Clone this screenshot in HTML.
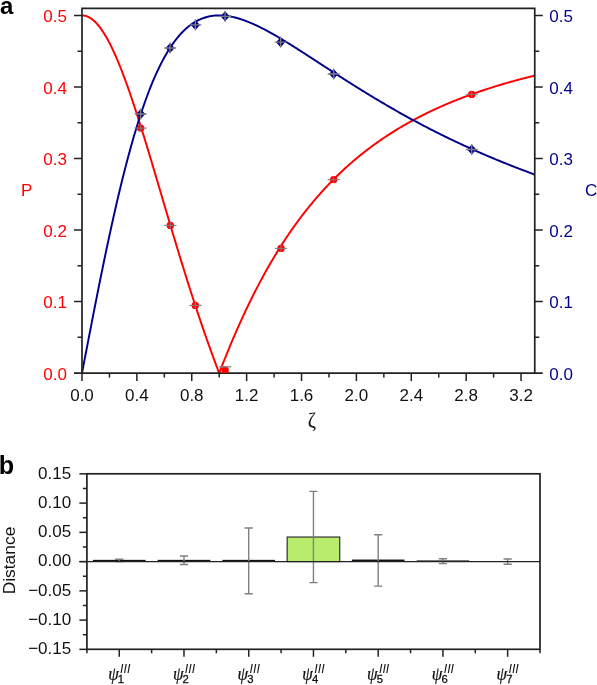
<!DOCTYPE html>
<html><head><meta charset="utf-8"><title>Figure</title>
<style>html,body{margin:0;padding:0;background:#fff}svg{display:block}</style></head>
<body>
<svg width="597" height="685" viewBox="0 0 597 685" font-family="'Liberation Sans', Arial, sans-serif" font-size="17">
<rect width="597" height="685" fill="#fff"/>
<g fill="none" stroke-width="1.95" stroke-linejoin="round">
<path d="M82.00,15.40 L82.69,15.42 L83.37,15.47 L84.06,15.56 L84.74,15.69 L85.43,15.85 L86.12,16.04 L86.80,16.28 L87.49,16.54 L88.17,16.85 L88.86,17.18 L89.55,17.56 L90.23,17.97 L90.92,18.41 L91.60,18.89 L92.29,19.40 L92.98,19.95 L93.66,20.53 L94.35,21.15 L95.03,21.80 L95.72,22.48 L96.41,23.20 L97.09,23.95 L97.78,24.74 L98.46,25.56 L99.15,26.41 L99.84,27.29 L100.52,28.20 L101.21,29.15 L101.89,30.13 L102.58,31.14 L103.27,32.18 L103.95,33.26 L104.64,34.36 L105.32,35.49 L106.01,36.66 L106.70,37.85 L107.38,39.07 L108.07,40.33 L108.75,41.61 L109.44,42.92 L110.13,44.25 L110.81,45.62 L111.50,47.01 L112.18,48.43 L112.87,49.87 L113.56,51.34 L114.24,52.84 L114.93,54.36 L115.61,55.91 L116.30,57.48 L116.99,59.08 L117.67,60.70 L118.36,62.34 L119.04,64.01 L119.73,65.70 L120.42,67.41 L121.10,69.14 L121.79,70.90 L122.47,72.67 L123.16,74.47 L123.85,76.29 L124.53,78.12 L125.22,79.98 L125.90,81.85 L126.59,83.75 L127.28,85.66 L127.96,87.58 L128.65,89.53 L129.33,91.49 L130.02,93.47 L130.71,95.47 L131.39,97.48 L132.08,99.50 L132.76,101.55 L133.45,103.60 L134.14,105.67 L134.82,107.75 L135.51,109.85 L136.19,111.96 L136.88,114.08 L137.57,116.21 L138.25,118.35 L138.94,120.51 L139.62,122.67 L140.31,124.85 L141.00,127.04 L141.68,129.23 L142.37,131.44 L143.05,133.65 L143.74,135.87 L144.43,138.10 L145.11,140.34 L145.80,142.59 L146.48,144.84 L147.17,147.10 L147.86,149.36 L148.54,151.63 L149.23,153.91 L149.91,156.19 L150.60,158.48 L151.29,160.77 L151.97,163.07 L152.66,165.37 L153.34,167.67 L154.03,169.98 L154.72,172.29 L155.40,174.60 L156.09,176.91 L156.77,179.23 L157.46,181.55 L158.15,183.87 L158.83,186.19 L159.52,188.51 L160.20,190.83 L160.89,193.16 L161.58,195.48 L162.26,197.80 L162.95,200.13 L163.63,202.45 L164.32,204.77 L165.01,207.09 L165.69,209.41 L166.38,211.73 L167.06,214.04 L167.75,216.36 L168.44,218.67 L169.12,220.97 L169.81,223.28 L170.49,225.58 L171.18,227.88 L171.87,230.18 L172.55,232.47 L173.24,234.76 L173.92,237.05 L174.61,239.33 L175.30,241.60 L175.98,243.88 L176.67,246.14 L177.35,248.41 L178.04,250.67 L178.73,252.92 L179.41,255.17 L180.10,257.41 L180.78,259.65 L181.47,261.88 L182.16,264.10 L182.84,266.32 L183.53,268.54 L184.21,270.74 L184.90,272.94 L185.59,275.14 L186.27,277.33 L186.96,279.51 L187.64,281.68 L188.33,283.85 L189.02,286.01 L189.70,288.16 L190.39,290.31 L191.07,292.45 L191.76,294.58 L192.45,296.70 L193.13,298.82 L193.82,300.93 L194.50,303.03 L195.19,305.13 L195.88,307.21 L196.56,309.29 L197.25,311.36 L197.93,313.42 L198.62,315.47 L199.31,317.52 L199.99,319.56 L200.68,321.58 L201.36,323.61 L202.05,325.62 L202.74,327.62 L203.42,329.62 L204.11,331.60 L204.79,333.58 L205.48,335.55 L206.17,337.51 L206.85,339.46 L207.54,341.41 L208.22,343.34 L208.91,345.27 L209.60,347.19 L210.28,349.10 L210.97,351.00 L211.65,352.89 L212.34,354.77 L213.03,356.64 L213.71,358.51 L214.40,360.36 L215.08,362.21 L215.77,364.05 L216.46,365.87 L217.14,367.69 L217.83,369.51 L218.51,371.31 L219.20,373.10" stroke="#ff0000"/>
<path d="M219.20,373.10 L219.99,371.05 L220.78,369.01 L221.57,366.98 L222.36,364.97 L223.14,362.96 L223.93,360.97 L224.72,358.99 L225.51,357.02 L226.30,355.07 L227.09,353.12 L227.88,351.19 L228.67,349.27 L229.46,347.36 L230.24,345.46 L231.03,343.57 L231.82,341.70 L232.61,339.84 L233.40,337.98 L234.19,336.14 L234.98,334.32 L235.77,332.50 L236.56,330.69 L237.34,328.90 L238.13,327.12 L238.92,325.34 L239.71,323.58 L240.50,321.83 L241.29,320.10 L242.08,318.37 L242.87,316.65 L243.66,314.95 L244.44,313.25 L245.23,311.57 L246.02,309.90 L246.81,308.24 L247.60,306.59 L248.39,304.95 L249.18,303.32 L249.97,301.70 L250.76,300.09 L251.54,298.49 L252.33,296.91 L253.12,295.33 L253.91,293.76 L254.70,292.21 L255.49,290.66 L256.28,289.13 L257.07,287.60 L257.86,286.09 L258.64,284.58 L259.43,283.09 L260.22,281.61 L261.01,280.13 L261.80,278.67 L262.59,277.21 L263.38,275.76 L264.17,274.33 L264.96,272.90 L265.75,271.49 L266.53,270.08 L267.32,268.68 L268.11,267.29 L268.90,265.91 L269.69,264.54 L270.48,263.18 L271.27,261.83 L272.06,260.49 L272.85,259.16 L273.63,257.83 L274.42,256.52 L275.21,255.21 L276.00,253.91 L276.79,252.63 L277.58,251.35 L278.37,250.07 L279.16,248.81 L279.95,247.56 L280.73,246.31 L281.52,245.07 L282.31,243.85 L283.10,242.62 L283.89,241.41 L284.68,240.21 L285.47,239.01 L286.26,237.82 L287.05,236.64 L287.83,235.47 L288.62,234.31 L289.41,233.15 L290.20,232.00 L290.99,230.86 L291.78,229.73 L292.57,228.60 L293.36,227.49 L294.15,226.38 L294.93,225.27 L295.72,224.18 L296.51,223.09 L297.30,222.01 L298.09,220.94 L298.88,219.87 L299.67,218.81 L300.46,217.76 L301.25,216.72 L302.03,215.68 L302.82,214.65 L303.61,213.62 L304.40,212.61 L305.19,211.60 L305.98,210.59 L306.77,209.60 L307.56,208.61 L308.35,207.63 L309.13,206.65 L309.92,205.68 L310.71,204.71 L311.50,203.76 L312.29,202.81 L313.08,201.86 L313.87,200.92 L314.66,199.99 L315.45,199.07 L316.23,198.15 L317.02,197.23 L317.81,196.33 L318.60,195.42 L319.39,194.53 L320.18,193.64 L320.97,192.76 L321.76,191.88 L322.55,191.01 L323.33,190.14 L324.12,189.28 L324.91,188.42 L325.70,187.58 L326.49,186.73 L327.28,185.89 L328.07,185.06 L328.86,184.23 L329.65,183.41 L330.43,182.60 L331.22,181.78 L332.01,180.98 L332.80,180.18 L333.59,179.38 L334.38,178.59 L335.17,177.81 L335.96,177.03 L336.75,176.25 L337.53,175.48 L338.32,174.72 L339.11,173.96 L339.90,173.20 L340.69,172.45 L341.48,171.71 L342.27,170.97 L343.06,170.23 L343.85,169.50 L344.64,168.78 L345.42,168.05 L346.21,167.34 L347.00,166.63 L347.79,165.92 L348.58,165.21 L349.37,164.52 L350.16,163.82 L350.95,163.13 L351.74,162.45 L352.52,161.76 L353.31,161.09 L354.10,160.42 L354.89,159.75 L355.68,159.08 L356.47,158.42 L357.26,157.77 L358.05,157.12 L358.84,156.47 L359.62,155.82 L360.41,155.19 L361.20,154.55 L361.99,153.92 L362.78,153.29 L363.57,152.67 L364.36,152.05 L365.15,151.43 L365.94,150.82 L366.72,150.21 L367.51,149.61 L368.30,149.01 L369.09,148.41 L369.88,147.82 L370.67,147.23 L371.46,146.64 L372.25,146.06 L373.04,145.48 L373.82,144.90 L374.61,144.33 L375.40,143.76 L376.19,143.20 L376.98,142.64 L377.77,142.08 L378.56,141.53 L379.35,140.98 L380.14,140.43 L380.92,139.88 L381.71,139.34 L382.50,138.80 L383.29,138.27 L384.08,137.74 L384.87,137.21 L385.66,136.69 L386.45,136.16 L387.24,135.65 L388.02,135.13 L388.81,134.62 L389.60,134.11 L390.39,133.60 L391.18,133.10 L391.97,132.60 L392.76,132.10 L393.55,131.61 L394.34,131.11 L395.12,130.63 L395.91,130.14 L396.70,129.66 L397.49,129.18 L398.28,128.70 L399.07,128.23 L399.86,127.75 L400.65,127.29 L401.44,126.82 L402.22,126.36 L403.01,125.90 L403.80,125.44 L404.59,124.98 L405.38,124.53 L406.17,124.08 L406.96,123.63 L407.75,123.19 L408.54,122.75 L409.32,122.31 L410.11,121.87 L410.90,121.44 L411.69,121.00 L412.48,120.57 L413.27,120.15 L414.06,119.72 L414.85,119.30 L415.64,118.88 L416.42,118.46 L417.21,118.05 L418.00,117.64 L418.79,117.22 L419.58,116.82 L420.37,116.41 L421.16,116.01 L421.95,115.61 L422.74,115.21 L423.53,114.81 L424.31,114.42 L425.10,114.02 L425.89,113.63 L426.68,113.25 L427.47,112.86 L428.26,112.48 L429.05,112.10 L429.84,111.72 L430.63,111.34 L431.41,110.97 L432.20,110.59 L432.99,110.22 L433.78,109.85 L434.57,109.49 L435.36,109.12 L436.15,108.76 L436.94,108.40 L437.73,108.04 L438.51,107.68 L439.30,107.33 L440.09,106.98 L440.88,106.63 L441.67,106.28 L442.46,105.93 L443.25,105.58 L444.04,105.24 L444.83,104.90 L445.61,104.56 L446.40,104.22 L447.19,103.89 L447.98,103.55 L448.77,103.22 L449.56,102.89 L450.35,102.56 L451.14,102.23 L451.93,101.91 L452.71,101.58 L453.50,101.26 L454.29,100.94 L455.08,100.62 L455.87,100.31 L456.66,99.99 L457.45,99.68 L458.24,99.37 L459.03,99.06 L459.81,98.75 L460.60,98.44 L461.39,98.14 L462.18,97.83 L462.97,97.53 L463.76,97.23 L464.55,96.93 L465.34,96.64 L466.13,96.34 L466.91,96.05 L467.70,95.75 L468.49,95.46 L469.28,95.17 L470.07,94.89 L470.86,94.60 L471.65,94.31 L472.44,94.03 L473.23,93.75 L474.01,93.47 L474.80,93.19 L475.59,92.91 L476.38,92.63 L477.17,92.36 L477.96,92.09 L478.75,91.81 L479.54,91.54 L480.33,91.27 L481.11,91.01 L481.90,90.74 L482.69,90.47 L483.48,90.21 L484.27,89.95 L485.06,89.69 L485.85,89.43 L486.64,89.17 L487.43,88.91 L488.21,88.65 L489.00,88.40 L489.79,88.15 L490.58,87.89 L491.37,87.64 L492.16,87.39 L492.95,87.14 L493.74,86.90 L494.53,86.65 L495.31,86.41 L496.10,86.16 L496.89,85.92 L497.68,85.68 L498.47,85.44 L499.26,85.20 L500.05,84.96 L500.84,84.73 L501.63,84.49 L502.42,84.26 L503.20,84.02 L503.99,83.79 L504.78,83.56 L505.57,83.33 L506.36,83.10 L507.15,82.88 L507.94,82.65 L508.73,82.42 L509.52,82.20 L510.30,81.98 L511.09,81.76 L511.88,81.54 L512.67,81.32 L513.46,81.10 L514.25,80.88 L515.04,80.66 L515.83,80.45 L516.62,80.23 L517.40,80.02 L518.19,79.81 L518.98,79.59 L519.77,79.38 L520.56,79.17 L521.35,78.97 L522.14,78.76 L522.93,78.55 L523.72,78.35 L524.50,78.14 L525.29,77.94 L526.08,77.74 L526.87,77.53 L527.66,77.33 L528.45,77.13 L529.24,76.93 L530.03,76.74 L530.82,76.54 L531.60,76.34 L532.39,76.15 L533.18,75.95 L533.97,75.76 L534.76,75.57" stroke="#ff0000"/>
<path d="M82.00,373.10 L82.91,368.38 L83.81,363.66 L84.72,358.94 L85.62,354.23 L86.53,349.52 L87.43,344.81 L88.34,340.12 L89.24,335.43 L90.15,330.75 L91.06,326.09 L91.96,321.43 L92.87,316.79 L93.77,312.17 L94.68,307.56 L95.58,302.96 L96.49,298.39 L97.39,293.83 L98.30,289.29 L99.20,284.78 L100.11,280.28 L101.02,275.81 L101.92,271.37 L102.83,266.95 L103.73,262.55 L104.64,258.19 L105.54,253.85 L106.45,249.54 L107.35,245.26 L108.26,241.01 L109.17,236.79 L110.07,232.61 L110.98,228.46 L111.88,224.34 L112.79,220.26 L113.69,216.21 L114.60,212.20 L115.50,208.23 L116.41,204.30 L117.32,200.40 L118.22,196.54 L119.13,192.72 L120.03,188.94 L120.94,185.20 L121.84,181.51 L122.75,177.85 L123.65,174.23 L124.56,170.66 L125.46,167.13 L126.37,163.65 L127.28,160.20 L128.18,156.80 L129.09,153.45 L129.99,150.14 L130.90,146.87 L131.80,143.64 L132.71,140.47 L133.61,137.33 L134.52,134.25 L135.43,131.20 L136.33,128.21 L137.24,125.25 L138.14,122.35 L139.05,119.48 L139.95,116.67 L140.86,113.90 L141.76,111.17 L142.67,108.49 L143.58,105.86 L144.48,103.27 L145.39,100.72 L146.29,98.22 L147.20,95.77 L148.10,93.36 L149.01,90.99 L149.91,88.67 L150.82,86.39 L151.73,84.16 L152.63,81.97 L153.54,79.82 L154.44,77.72 L155.35,75.66 L156.25,73.64 L157.16,71.66 L158.06,69.73 L158.97,67.83 L159.87,65.98 L160.78,64.17 L161.69,62.40 L162.59,60.67 L163.50,58.98 L164.40,57.33 L165.31,55.72 L166.21,54.15 L167.12,52.62 L168.02,51.12 L168.93,49.67 L169.84,48.24 L170.74,46.86 L171.65,45.51 L172.55,44.20 L173.46,42.93 L174.36,41.69 L175.27,40.48 L176.17,39.31 L177.08,38.18 L177.99,37.07 L178.89,36.00 L179.80,34.96 L180.70,33.96 L181.61,32.99 L182.51,32.04 L183.42,31.13 L184.32,30.25 L185.23,29.40 L186.13,28.58 L187.04,27.79 L187.95,27.03 L188.85,26.29 L189.76,25.59 L190.66,24.91 L191.57,24.26 L192.47,23.63 L193.38,23.04 L194.28,22.46 L195.19,21.92 L196.10,21.40 L197.00,20.90 L197.91,20.43 L198.81,19.98 L199.72,19.55 L200.62,19.15 L201.53,18.77 L202.43,18.42 L203.34,18.08 L204.25,17.77 L205.15,17.48 L206.06,17.21 L206.96,16.96 L207.87,16.73 L208.77,16.51 L209.68,16.32 L210.58,16.15 L211.49,16.00 L212.39,15.86 L213.30,15.75 L214.21,15.65 L215.11,15.56 L216.02,15.50 L216.92,15.45 L217.83,15.42 L218.73,15.40 L219.64,15.40 L220.54,15.42 L221.45,15.45 L222.36,15.49 L223.26,15.55 L224.17,15.63 L225.07,15.71 L225.98,15.82 L226.88,15.93 L227.79,16.06 L228.69,16.20 L229.60,16.35 L230.51,16.52 L231.41,16.70 L232.32,16.89 L233.22,17.09 L234.13,17.30 L235.03,17.52 L235.94,17.76 L236.84,18.00 L237.75,18.26 L238.65,18.52 L239.56,18.80 L240.47,19.08 L241.37,19.38 L242.28,19.68 L243.18,19.99 L244.09,20.31 L244.99,20.64 L245.90,20.98 L246.80,21.33 L247.71,21.68 L248.62,22.04 L249.52,22.41 L250.43,22.79 L251.33,23.18 L252.24,23.57 L253.14,23.97 L254.05,24.37 L254.95,24.78 L255.86,25.20 L256.77,25.62 L257.67,26.06 L258.58,26.49 L259.48,26.93 L260.39,27.38 L261.29,27.83 L262.20,28.29 L263.10,28.76 L264.01,29.22 L264.92,29.70 L265.82,30.18 L266.73,30.66 L267.63,31.15 L268.54,31.64 L269.44,32.13 L270.35,32.63 L271.25,33.14 L272.16,33.65 L273.06,34.16 L273.97,34.67 L274.88,35.19 L275.78,35.71 L276.69,36.24 L277.59,36.77 L278.50,37.30 L279.40,37.83 L280.31,38.37 L281.21,38.91 L282.12,39.45 L283.03,40.00 L283.93,40.55 L284.84,41.10 L285.74,41.65 L286.65,42.21 L287.55,42.76 L288.46,43.32 L289.36,43.88 L290.27,44.45 L291.18,45.01 L292.08,45.58 L292.99,46.15 L293.89,46.72 L294.80,47.29 L295.70,47.86 L296.61,48.44 L297.51,49.01 L298.42,49.59 L299.32,50.17 L300.23,50.75 L301.14,51.33 L302.04,51.91 L302.95,52.49 L303.85,53.07 L304.76,53.66 L305.66,54.24 L306.57,54.83 L307.47,55.41 L308.38,56.00 L309.29,56.59 L310.19,57.17 L311.10,57.76 L312.00,58.35 L312.91,58.94 L313.81,59.53 L314.72,60.12 L315.62,60.71 L316.53,61.30 L317.44,61.89 L318.34,62.48 L319.25,63.07 L320.15,63.66 L321.06,64.25 L321.96,64.84 L322.87,65.43 L323.77,66.02 L324.68,66.61 L325.58,67.20 L326.49,67.79 L327.40,68.38 L328.30,68.96 L329.21,69.55 L330.11,70.14 L331.02,70.73 L331.92,71.32 L332.83,71.90 L333.73,72.49 L334.64,73.07 L335.55,73.66 L336.45,74.24 L337.36,74.83 L338.26,75.41 L339.17,76.00 L340.07,76.58 L340.98,77.16 L341.88,77.74 L342.79,78.32 L343.70,78.90 L344.60,79.48 L345.51,80.06 L346.41,80.63 L347.32,81.21 L348.22,81.78 L349.13,82.36 L350.03,82.93 L350.94,83.51 L351.84,84.08 L352.75,84.65 L353.66,85.22 L354.56,85.79 L355.47,86.36 L356.37,86.92 L357.28,87.49 L358.18,88.05 L359.09,88.62 L359.99,89.18 L360.90,89.74 L361.81,90.30 L362.71,90.86 L363.62,91.42 L364.52,91.98 L365.43,92.54 L366.33,93.09 L367.24,93.65 L368.14,94.20 L369.05,94.75 L369.96,95.30 L370.86,95.85 L371.77,96.40 L372.67,96.95 L373.58,97.50 L374.48,98.04 L375.39,98.58 L376.29,99.13 L377.20,99.67 L378.11,100.21 L379.01,100.75 L379.92,101.28 L380.82,101.82 L381.73,102.36 L382.63,102.89 L383.54,103.42 L384.44,103.95 L385.35,104.48 L386.25,105.01 L387.16,105.54 L388.07,106.07 L388.97,106.59 L389.88,107.12 L390.78,107.64 L391.69,108.16 L392.59,108.68 L393.50,109.20 L394.40,109.71 L395.31,110.23 L396.22,110.75 L397.12,111.26 L398.03,111.77 L398.93,112.28 L399.84,112.79 L400.74,113.30 L401.65,113.81 L402.55,114.31 L403.46,114.81 L404.37,115.32 L405.27,115.82 L406.18,116.32 L407.08,116.82 L407.99,117.31 L408.89,117.81 L409.80,118.31 L410.70,118.80 L411.61,119.29 L412.51,119.78 L413.42,120.27 L414.33,120.76 L415.23,121.25 L416.14,121.73 L417.04,122.21 L417.95,122.70 L418.85,123.18 L419.76,123.66 L420.66,124.14 L421.57,124.61 L422.48,125.09 L423.38,125.57 L424.29,126.04 L425.19,126.51 L426.10,126.98 L427.00,127.45 L427.91,127.92 L428.81,128.39 L429.72,128.85 L430.63,129.31 L431.53,129.78 L432.44,130.24 L433.34,130.70 L434.25,131.16 L435.15,131.61 L436.06,132.07 L436.96,132.53 L437.87,132.98 L438.77,133.43 L439.68,133.88 L440.59,134.33 L441.49,134.78 L442.40,135.23 L443.30,135.67 L444.21,136.12 L445.11,136.56 L446.02,137.00 L446.92,137.44 L447.83,137.88 L448.74,138.32 L449.64,138.76 L450.55,139.19 L451.45,139.63 L452.36,140.06 L453.26,140.49 L454.17,140.92 L455.07,141.35 L455.98,141.78 L456.89,142.21 L457.79,142.63 L458.70,143.05 L459.60,143.48 L460.51,143.90 L461.41,144.32 L462.32,144.74 L463.22,145.16 L464.13,145.57 L465.03,145.99 L465.94,146.40 L466.85,146.82 L467.75,147.23 L468.66,147.64 L469.56,148.05 L470.47,148.46 L471.37,148.86 L472.28,149.27 L473.18,149.67 L474.09,150.08 L475.00,150.48 L475.90,150.88 L476.81,151.28 L477.71,151.68 L478.62,152.07 L479.52,152.47 L480.43,152.87 L481.33,153.26 L482.24,153.65 L483.15,154.04 L484.05,154.43 L484.96,154.82 L485.86,155.21 L486.77,155.60 L487.67,155.98 L488.58,156.37 L489.48,156.75 L490.39,157.13 L491.30,157.51 L492.20,157.89 L493.11,158.27 L494.01,158.65 L494.92,159.03 L495.82,159.40 L496.73,159.78 L497.63,160.15 L498.54,160.52 L499.44,160.89 L500.35,161.26 L501.26,161.63 L502.16,162.00 L503.07,162.37 L503.97,162.73 L504.88,163.10 L505.78,163.46 L506.69,163.82 L507.59,164.19 L508.50,164.55 L509.41,164.91 L510.31,165.26 L511.22,165.62 L512.12,165.98 L513.03,166.33 L513.93,166.69 L514.84,167.04 L515.74,167.39 L516.65,167.74 L517.56,168.09 L518.46,168.44 L519.37,168.79 L520.27,169.13 L521.18,169.48 L522.08,169.82 L522.99,170.17 L523.89,170.51 L524.80,170.85 L525.70,171.19 L526.61,171.53 L527.52,171.87 L528.42,172.21 L529.33,172.55 L530.23,172.88 L531.14,173.22 L532.04,173.55 L532.95,173.88 L533.85,174.21 L534.76,174.54" stroke="#00008b"/>
</g>
<g stroke="#222" stroke-width="1.7" fill="none" stroke-linecap="butt">
<path d="M82.00,373.85 V8.40 H534.76 V373.85"/>
<path d="M74.00,373.10 H542.76"/>
</g>
<g stroke="#222" stroke-width="1.5">
<path d="M77.50,337.33 H82.00 M534.76,337.33 H539.26"/>
<path d="M74.00,301.56 H82.00 M534.76,301.56 H542.76"/>
<path d="M77.50,265.79 H82.00 M534.76,265.79 H539.26"/>
<path d="M74.00,230.02 H82.00 M534.76,230.02 H542.76"/>
<path d="M77.50,194.25 H82.00 M534.76,194.25 H539.26"/>
<path d="M74.00,158.48 H82.00 M534.76,158.48 H542.76"/>
<path d="M77.50,122.71 H82.00 M534.76,122.71 H539.26"/>
<path d="M74.00,86.94 H82.00 M534.76,86.94 H542.76"/>
<path d="M77.50,51.17 H82.00 M534.76,51.17 H539.26"/>
<path d="M74.00,15.40 H82.00 M534.76,15.40 H542.76"/>
<path d="M82.00,373.10 V381.10"/>
<path d="M109.44,373.10 V377.60"/>
<path d="M136.88,373.10 V381.10"/>
<path d="M164.32,373.10 V377.60"/>
<path d="M191.76,373.10 V381.10"/>
<path d="M219.20,373.10 V377.60"/>
<path d="M246.64,373.10 V381.10"/>
<path d="M274.08,373.10 V377.60"/>
<path d="M301.52,373.10 V381.10"/>
<path d="M328.96,373.10 V377.60"/>
<path d="M356.40,373.10 V381.10"/>
<path d="M383.84,373.10 V377.60"/>
<path d="M411.28,373.10 V381.10"/>
<path d="M438.72,373.10 V377.60"/>
<path d="M466.16,373.10 V381.10"/>
<path d="M493.60,373.10 V377.60"/>
<path d="M521.04,373.10 V381.10"/>
</g>
<text x="67.0" y="379.70" text-anchor="end" fill="#ff0000">0.0</text>
<text x="549.3" y="379.70" fill="#00008b">0.0</text>
<text x="67.0" y="308.16" text-anchor="end" fill="#ff0000">0.1</text>
<text x="549.3" y="308.16" fill="#00008b">0.1</text>
<text x="67.0" y="236.62" text-anchor="end" fill="#ff0000">0.2</text>
<text x="549.3" y="236.62" fill="#00008b">0.2</text>
<text x="67.0" y="165.08" text-anchor="end" fill="#ff0000">0.3</text>
<text x="549.3" y="165.08" fill="#00008b">0.3</text>
<text x="67.0" y="93.54" text-anchor="end" fill="#ff0000">0.4</text>
<text x="549.3" y="93.54" fill="#00008b">0.4</text>
<text x="67.0" y="22.00" text-anchor="end" fill="#ff0000">0.5</text>
<text x="549.3" y="22.00" fill="#00008b">0.5</text>
<text x="82.00" y="401.2" text-anchor="middle" fill="#111">0.0</text>
<text x="136.88" y="401.2" text-anchor="middle" fill="#111">0.4</text>
<text x="191.76" y="401.2" text-anchor="middle" fill="#111">0.8</text>
<text x="246.64" y="401.2" text-anchor="middle" fill="#111">1.2</text>
<text x="301.52" y="401.2" text-anchor="middle" fill="#111">1.6</text>
<text x="356.40" y="401.2" text-anchor="middle" fill="#111">2.0</text>
<text x="411.28" y="401.2" text-anchor="middle" fill="#111">2.4</text>
<text x="466.16" y="401.2" text-anchor="middle" fill="#111">2.8</text>
<text x="521.04" y="401.2" text-anchor="middle" fill="#111">3.2</text>
<text x="21" y="195.9" fill="#ff0000">P</text>
<text x="585" y="195.9" fill="#00008b">C</text>
<text x="312.0" y="426.7" text-anchor="middle" fill="#111" font-family="'Liberation Serif', 'DejaVu Serif', serif" font-size="20">ζ</text>
<text x="0" y="13.6" font-weight="bold" font-size="24" fill="#000">a</text>
<text x="-1.2" y="473.7" font-weight="bold" font-size="25.2" fill="#000">b</text>
<clipPath id="ca"><rect x="82.00" y="8.40" width="452.76" height="364.70"/></clipPath>
<path d="M140.70,109.00 L145.30,114.00 L140.70,119.00 L136.10,114.00Z" fill="#00008b"/>
<path d="M134.70,114.00 H146.70 M140.70,108.40 V119.60" stroke="#808080" stroke-width="1.3"/>
<path d="M170.10,43.00 L174.70,48.00 L170.10,53.00 L165.50,48.00Z" fill="#00008b"/>
<path d="M164.10,48.00 H176.10 M170.10,42.40 V53.60" stroke="#808080" stroke-width="1.3"/>
<path d="M195.40,19.90 L200.00,24.90 L195.40,29.90 L190.80,24.90Z" fill="#00008b"/>
<path d="M189.40,24.90 H201.40 M195.40,19.30 V30.50" stroke="#808080" stroke-width="1.3"/>
<path d="M225.10,11.30 L229.70,16.30 L225.10,21.30 L220.50,16.30Z" fill="#00008b"/>
<path d="M219.10,16.30 H231.10 M225.10,10.70 V21.90" stroke="#808080" stroke-width="1.3"/>
<path d="M280.60,37.20 L285.20,42.20 L280.60,47.20 L276.00,42.20Z" fill="#00008b"/>
<path d="M274.60,42.20 H286.60 M280.60,36.60 V47.80" stroke="#808080" stroke-width="1.3"/>
<path d="M333.70,69.00 L338.30,74.00 L333.70,79.00 L329.10,74.00Z" fill="#00008b"/>
<path d="M327.70,74.00 H339.70 M333.70,68.40 V79.60" stroke="#808080" stroke-width="1.3"/>
<path d="M471.70,144.50 L476.30,149.50 L471.70,154.50 L467.10,149.50Z" fill="#00008b"/>
<path d="M465.70,149.50 H477.70 M471.70,143.90 V155.10" stroke="#808080" stroke-width="1.3"/>
<circle cx="140.70" cy="128.10" r="3.7" fill="#ff0000"/>
<path d="M134.50,128.10 H146.90 M140.70,124.70 V131.50" stroke="#808080" stroke-width="1.0"/>
<circle cx="170.30" cy="225.40" r="3.7" fill="#ff0000"/>
<path d="M164.10,225.40 H176.50 M170.30,222.00 V228.80" stroke="#808080" stroke-width="1.0"/>
<circle cx="195.30" cy="305.40" r="3.7" fill="#ff0000"/>
<path d="M189.10,305.40 H201.50 M195.30,302.00 V308.80" stroke="#808080" stroke-width="1.0"/>
<circle cx="225.10" cy="370.30" r="3.7" fill="#ff0000" clip-path="url(#ca)"/>
<path d="M219.10,366.80 H231.10" stroke="#808080" stroke-width="1.3"/>
<circle cx="281.00" cy="248.40" r="3.7" fill="#ff0000"/>
<path d="M274.80,248.40 H287.20 M281.00,245.00 V251.80" stroke="#808080" stroke-width="1.0"/>
<circle cx="333.70" cy="179.60" r="3.7" fill="#ff0000"/>
<path d="M327.50,179.60 H339.90 M333.70,176.20 V183.00" stroke="#808080" stroke-width="1.0"/>
<circle cx="471.70" cy="94.40" r="3.7" fill="#ff0000"/>
<path d="M465.50,94.40 H477.90 M471.70,91.00 V97.80" stroke="#808080" stroke-width="1.0"/>
<rect x="92.96" y="559.85" width="52.60" height="1.75" fill="#111"/>
<rect x="157.69" y="559.85" width="52.60" height="1.75" fill="#111"/>
<rect x="222.42" y="559.85" width="52.60" height="1.75" fill="#111"/>
<rect x="287.15" y="537.03" width="52.60" height="24.57" fill="#b9ec6c" stroke="#222" stroke-width="1.1"/>
<rect x="351.88" y="559.55" width="52.60" height="2.05" fill="#111"/>
<rect x="416.61" y="560.43" width="52.60" height="1.17" fill="#111"/>
<path d="M119.26,559.26 V561.60 M115.16,559.26 H123.36 M115.16,561.60 H123.36" stroke="#808080" stroke-width="1.4" fill="none"/>
<path d="M183.99,556.04 V564.52 M179.89,556.04 H188.09 M179.89,564.52 H188.09" stroke="#808080" stroke-width="1.4" fill="none"/>
<path d="M248.72,527.96 V593.77 M244.62,527.96 H252.82 M244.62,593.77 H252.82" stroke="#808080" stroke-width="1.4" fill="none"/>
<path d="M313.45,491.40 V582.66 M309.35,491.40 H317.55 M309.35,582.66 H317.55" stroke="#808080" stroke-width="1.4" fill="none"/>
<path d="M378.18,534.69 V586.17 M374.08,534.69 H382.28 M374.08,586.17 H382.28" stroke="#808080" stroke-width="1.4" fill="none"/>
<path d="M442.91,558.68 V563.65 M438.81,558.68 H447.01 M438.81,563.65 H447.01" stroke="#808080" stroke-width="1.4" fill="none"/>
<path d="M507.64,558.97 V564.23 M503.54,558.97 H511.74 M503.54,564.23 H511.74" stroke="#808080" stroke-width="1.4" fill="none"/>
<g stroke="#222" stroke-width="1.7" fill="none">
<rect x="86.90" y="473.80" width="453.10" height="175.50"/>
<path d="M79.40,561.60 H540.00" stroke-width="1.35"/>
</g>
<g stroke="#222" stroke-width="1.5">
<path d="M79.40,649.35 H86.90"/>
<path d="M82.90,634.73 H86.90"/>
<path d="M79.40,620.10 H86.90"/>
<path d="M82.90,605.48 H86.90"/>
<path d="M79.40,590.85 H86.90"/>
<path d="M82.90,576.23 H86.90"/>
<path d="M79.40,561.60 H86.90"/>
<path d="M82.90,546.98 H86.90"/>
<path d="M79.40,532.35 H86.90"/>
<path d="M82.90,517.73 H86.90"/>
<path d="M79.40,503.10 H86.90"/>
<path d="M82.90,488.48 H86.90"/>
<path d="M79.40,473.85 H86.90"/>
<path d="M86.90,649.30 V653.30"/>
<path d="M119.26,649.30 V656.80"/>
<path d="M151.63,649.30 V653.30"/>
<path d="M183.99,649.30 V656.80"/>
<path d="M216.36,649.30 V653.30"/>
<path d="M248.72,649.30 V656.80"/>
<path d="M281.09,649.30 V653.30"/>
<path d="M313.45,649.30 V656.80"/>
<path d="M345.81,649.30 V653.30"/>
<path d="M378.18,649.30 V656.80"/>
<path d="M410.54,649.30 V653.30"/>
<path d="M442.91,649.30 V656.80"/>
<path d="M475.27,649.30 V653.30"/>
<path d="M507.64,649.30 V656.80"/>
<path d="M540.00,649.30 V653.30"/>
</g>
<text x="71.2" y="478.65" text-anchor="end" fill="#111">0.15</text>
<text x="71.2" y="507.90" text-anchor="end" fill="#111">0.10</text>
<text x="71.2" y="537.15" text-anchor="end" fill="#111">0.05</text>
<text x="71.2" y="566.40" text-anchor="end" fill="#111">0.00</text>
<text x="71.2" y="595.65" text-anchor="end" fill="#111">−0.05</text>
<text x="71.2" y="624.90" text-anchor="end" fill="#111">−0.10</text>
<text x="71.2" y="654.15" text-anchor="end" fill="#111">−0.15</text>
<text transform="translate(15.1,560.5) rotate(-90)" text-anchor="middle" fill="#111" font-size="17.4">Distance</text>
<text transform="translate(108.16,679.5) scale(0.895,1)" fill="#111" font-family="'Liberation Serif', 'DejaVu Serif', serif" font-style="italic" stroke="#111" stroke-width="0.25" font-size="19">ψ</text>
<text x="120.06" y="672.7" fill="#111" font-style="italic" font-size="12.4">III</text>
<text x="117.86" y="683.3" fill="#111" stroke="#111" stroke-width="0.3" font-size="11.3">1</text>
<text transform="translate(172.89,679.5) scale(0.895,1)" fill="#111" font-family="'Liberation Serif', 'DejaVu Serif', serif" font-style="italic" stroke="#111" stroke-width="0.25" font-size="19">ψ</text>
<text x="184.79" y="672.7" fill="#111" font-style="italic" font-size="12.4">III</text>
<text x="182.59" y="683.3" fill="#111" stroke="#111" stroke-width="0.3" font-size="11.3">2</text>
<text transform="translate(237.62,679.5) scale(0.895,1)" fill="#111" font-family="'Liberation Serif', 'DejaVu Serif', serif" font-style="italic" stroke="#111" stroke-width="0.25" font-size="19">ψ</text>
<text x="249.52" y="672.7" fill="#111" font-style="italic" font-size="12.4">III</text>
<text x="247.32" y="683.3" fill="#111" stroke="#111" stroke-width="0.3" font-size="11.3">3</text>
<text transform="translate(302.35,679.5) scale(0.895,1)" fill="#111" font-family="'Liberation Serif', 'DejaVu Serif', serif" font-style="italic" stroke="#111" stroke-width="0.25" font-size="19">ψ</text>
<text x="314.25" y="672.7" fill="#111" font-style="italic" font-size="12.4">III</text>
<text x="312.05" y="683.3" fill="#111" stroke="#111" stroke-width="0.3" font-size="11.3">4</text>
<text transform="translate(367.08,679.5) scale(0.895,1)" fill="#111" font-family="'Liberation Serif', 'DejaVu Serif', serif" font-style="italic" stroke="#111" stroke-width="0.25" font-size="19">ψ</text>
<text x="378.98" y="672.7" fill="#111" font-style="italic" font-size="12.4">III</text>
<text x="376.78" y="683.3" fill="#111" stroke="#111" stroke-width="0.3" font-size="11.3">5</text>
<text transform="translate(431.81,679.5) scale(0.895,1)" fill="#111" font-family="'Liberation Serif', 'DejaVu Serif', serif" font-style="italic" stroke="#111" stroke-width="0.25" font-size="19">ψ</text>
<text x="443.71" y="672.7" fill="#111" font-style="italic" font-size="12.4">III</text>
<text x="441.51" y="683.3" fill="#111" stroke="#111" stroke-width="0.3" font-size="11.3">6</text>
<text transform="translate(496.54,679.5) scale(0.895,1)" fill="#111" font-family="'Liberation Serif', 'DejaVu Serif', serif" font-style="italic" stroke="#111" stroke-width="0.25" font-size="19">ψ</text>
<text x="508.44" y="672.7" fill="#111" font-style="italic" font-size="12.4">III</text>
<text x="506.24" y="683.3" fill="#111" stroke="#111" stroke-width="0.3" font-size="11.3">7</text>
</svg>
</body></html>
